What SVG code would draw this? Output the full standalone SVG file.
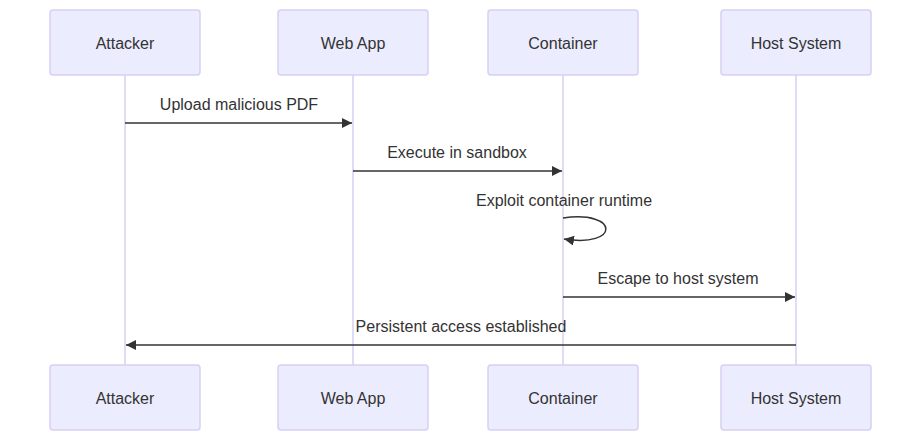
<svg xmlns="http://www.w3.org/2000/svg" width="921" height="441" viewBox="0 0 921 441">
<style>
.box{fill:#ECECFF;stroke:#D7D0F2;stroke-width:1.5}
.life{stroke:#D7D0F2;stroke-width:1.5}
.t{font-family:"Liberation Sans",Arial,sans-serif;font-size:16px;fill:#333;text-anchor:middle;dominant-baseline:central}
.m{stroke:#333;stroke-width:1.5;fill:none}
</style>
<defs><marker id="a" viewBox="0 0 10 10" refX="10" refY="5" markerWidth="10" markerHeight="10" markerUnits="userSpaceOnUse" orient="auto"><path d="M0,0 L10,5 L0,10 z" fill="#333"/></marker></defs>
<rect width="921" height="441" fill="#fff"/>
<g id="lifelines">
<line class="life" x1="125" y1="75" x2="125" y2="365"/>
<line class="life" x1="353" y1="75" x2="353" y2="365"/>
<line class="life" x1="563" y1="75" x2="563" y2="365"/>
<line class="life" x1="796" y1="75" x2="796" y2="365"/>
</g>
<g id="attacker"><rect class="box" x="50" y="10" width="150" height="65" rx="3"/><text class="t" x="125" y="43">Attacker</text><rect class="box" x="50" y="365" width="150" height="65" rx="3"/><text class="t" x="125" y="398">Attacker</text></g>
<g id="webapp"><rect class="box" x="278" y="10" width="150" height="65" rx="3"/><text class="t" x="353" y="43">Web App</text><rect class="box" x="278" y="365" width="150" height="65" rx="3"/><text class="t" x="353" y="398">Web App</text></g>
<g id="container"><rect class="box" x="488" y="10" width="150" height="65" rx="3"/><text class="t" x="563" y="43">Container</text><rect class="box" x="488" y="365" width="150" height="65" rx="3"/><text class="t" x="563" y="398">Container</text></g>
<g id="host"><rect class="box" x="721" y="10" width="150" height="65" rx="3"/><text class="t" x="796" y="43">Host System</text><rect class="box" x="721" y="365" width="150" height="65" rx="3"/><text class="t" x="796" y="398">Host System</text></g>
<g id="connectors">
<line class="m" x1="125" y1="123" x2="352" y2="123" marker-end="url(#a)"/>
<text class="t" x="239" y="104">Upload malicious PDF</text>
<line class="m" x1="353" y1="171" x2="562" y2="171" marker-end="url(#a)"/>
<text class="t" x="457" y="152">Execute in sandbox</text>
<path class="m" d="M563,218 C620,210 620,248 564,239" marker-end="url(#a)"/>
<text class="t" x="564" y="200">Exploit container runtime</text>
<line class="m" x1="563" y1="297" x2="795" y2="297" marker-end="url(#a)"/>
<text class="t" x="678" y="278">Escape to host system</text>
<line class="m" x1="796" y1="345" x2="126" y2="345" marker-end="url(#a)"/>
<text class="t" x="461" y="326">Persistent access established</text>
</g>
</svg>
